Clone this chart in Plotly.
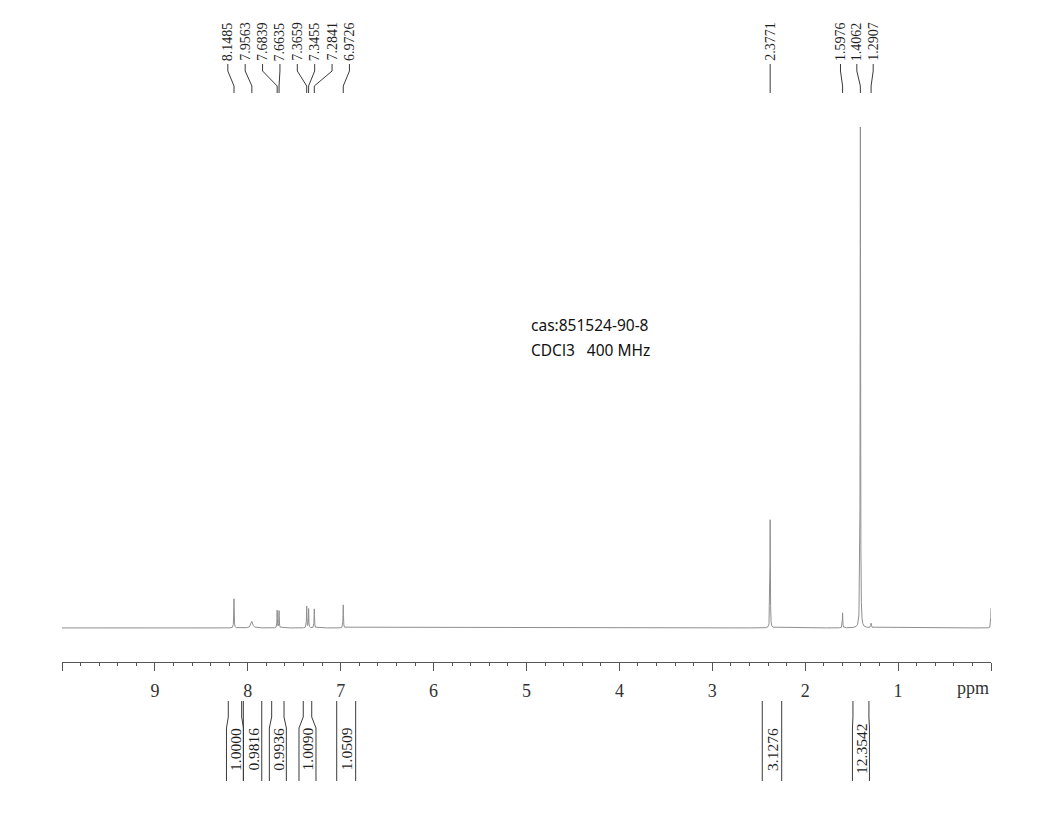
import numpy as np
import plotly.graph_objects as go

# ---------------- data ----------------
peak_ppm = [8.1485, 7.9563, 7.6839, 7.6635, 7.3659, 7.3455, 7.2841, 6.9726,
            2.3771, 1.5976, 1.4062, 1.2907, 0.0]
peak_height = [5.8, 1.3, 3.5, 3.4, 4.3, 3.8, 3.8, 4.6,
               21.6, 3.0, 100.0, 0.9, 4.0]
peak_hwhm = [0.0025, 0.012, 0.0025, 0.0025, 0.0025, 0.0025, 0.0025, 0.0025,
             0.0025, 0.0025, 0.0025, 0.004, 0.0025]

label_groups = [
    ["8.1485", "7.9563", "7.6839", "7.6635", "7.3659", "7.3455", "7.2841", "6.9726"],
    ["2.3771"],
    ["1.5976", "1.4062", "1.2907"],
]

int_start = [8.210, 8.048, 7.743, 7.403, 7.043, 2.462, 1.486]
int_end = [8.066, 7.850, 7.610, 7.312, 6.839, 2.253, 1.314]
int_value = ["1.0000", "0.9816", "0.9936", "1.0090", "1.0509", "3.1276", "12.3542"]

tick_vals = [0, 1, 2, 3, 4, 5, 6, 7, 8, 9, 10]
tick_text = ["", "1", "2", "3", "4", "5", "6", "7", "8", "9", ""]

info_lines = ["cas:851524-90-8", "CDCl3\u00a0\u00a0\u00a0400 MHz"]

# ---------------- layout constants (page pixels) ----------------
PAGE_W, PAGE_H = 1061, 818
OFF = 8                       # default body margin of the html page
W, H = PAGE_W - OFF, PAGE_H - OFF
PLOT_L, PLOT_R = 62, 991      # page x of 10 ppm and 0 ppm
AXIS_Y = 662                  # page y of the axis line
ML = PLOT_L - OFF
MR = W - (PLOT_R - OFF)
MT = 0
MB = H - (AXIS_Y - OFF)
PLOT_H = H - MT - MB
X_MIN, X_MAX = 0.0, 10.0
PX_PER_PPM = (PLOT_R - PLOT_L) / (X_MAX - X_MIN)
Y_RANGE = [-6.8, 123.75]


def py(Y):
    """page pixel row -> paper y"""
    return (AXIS_Y - Y) / PLOT_H


def px(X):
    """page pixel column -> paper x"""
    return (X - PLOT_L) / (PLOT_R - PLOT_L)


# ---------------- spectrum ----------------
grid = [np.linspace(X_MIN, X_MAX, 10001)]
for c, w in zip(peak_ppm, peak_hwhm):
    grid.append(np.linspace(c - 0.06, c + 0.06, 1201))
    grid.append(np.array([c]))
x = np.unique(np.concatenate(grid))
x = x[(x >= X_MIN) & (x <= X_MAX)]
y = np.zeros_like(x)
for c, h, w in zip(peak_ppm, peak_height, peak_hwhm):
    y += h * w**2 / ((x - c) ** 2 + w**2)

fig = go.Figure()
fig.add_trace(go.Scatter(x=x, y=y, mode="lines",
                         line=dict(color="#8f8f8f", width=1),
                         hoverinfo="skip", showlegend=False))

shapes = []
annotations = []

LINE_C = "#3a3a3a"
TEXT_C = "#1e1e1e"
SERIF = "Liberation Serif"

# ---------------- peak labels ----------------
spacing = [0.187, 0.0, 0.176]
for grp, sp in zip(label_groups, spacing):
    vals = [float(v) for v in grp]
    centre = (max(vals) + min(vals)) / 2
    n = len(vals)
    for i, (txt, v) in enumerate(zip(grp, vals)):
        lx = centre + ((n - 1) / 2 - i) * sp
        annotations.append(dict(x=lx, y=py(63), xref="x", yref="paper",
                                text=txt, textangle=-90, showarrow=False,
                                xanchor="center", yanchor="bottom",
                                font=dict(family=SERIF, size=14, color=TEXT_C)))
        path = (f"M {lx},{py(64)} L {lx},{py(71)} "
                f"L {v},{py(86)} L {v},{py(93)}")
        shapes.append(dict(type="path", path=path, xref="x", yref="paper",
                           line=dict(color=LINE_C, width=1)))

# ---------------- integrals ----------------
MIN_HALF = 8.5 / PX_PER_PPM
for s, e, t in zip(int_start, int_end, int_value):
    c = (s + e) / 2
    half = max(abs(s - e) / 2, MIN_HALF)
    lo_l, lo_r = c + half, c - half
    for top, low in ((s, lo_l), (e, lo_r)):
        path = (f"M {top},{py(701)} L {top},{py(717)} "
                f"L {low},{py(728)} L {low},{py(781)}")
        shapes.append(dict(type="path", path=path, xref="x", yref="paper",
                           line=dict(color=LINE_C, width=1)))
    annotations.append(dict(x=c, y=py(749), xref="x", yref="paper",
                            text=t, textangle=-90, showarrow=False,
                            xanchor="center", yanchor="middle",
                            font=dict(family=SERIF, size=15.5, color=TEXT_C)))

# ---------------- axis unit ----------------
annotations.append(dict(x=0.19, y=py(688), xref="x", yref="paper", text="ppm",
                        showarrow=False, xanchor="center", yanchor="middle",
                        font=dict(family=SERIF, size=18, color="#333333")))

# ---------------- sample info ----------------
for i, line in enumerate(info_lines):
    annotations.append(dict(x=px(529), y=py(325 + 25 * i),
                            xref="paper", yref="paper", text=line,
                            showarrow=False, xanchor="left", yanchor="middle",
                            font=dict(family="Noto Sans", size=15.5, color="#111111")))

fig.update_layout(
    width=W, height=H,
    margin=dict(l=ML, r=MR, t=MT, b=MB),
    paper_bgcolor="white", plot_bgcolor="white",
    showlegend=False,
    shapes=shapes, annotations=annotations,
    xaxis=dict(range=[X_MAX, X_MIN], showgrid=False, zeroline=False,
               showline=True, linecolor="#555555", linewidth=1,
               ticks="outside", ticklen=8, tickwidth=1, tickcolor="#555555",
               tickmode="array", tickvals=tick_vals, ticktext=tick_text,
               tickfont=dict(family=SERIF, size=18, color="#333333"),
               ticklabelstandoff=4,
               minor=dict(dtick=0.2, tick0=0, ticks="outside", ticklen=3,
                          tickcolor="#555555", showgrid=False)),
    yaxis=dict(range=Y_RANGE, visible=False, showgrid=False, zeroline=False),
)

fig.write_html("out.html")
